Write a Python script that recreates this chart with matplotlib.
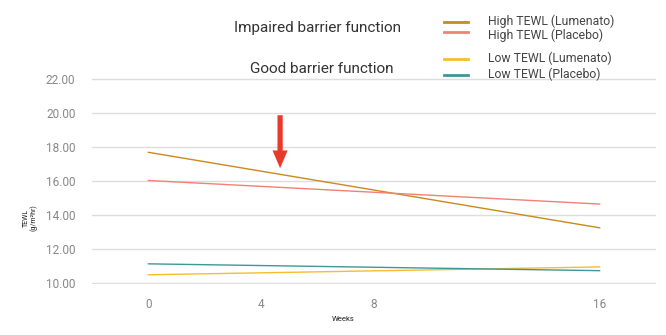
import matplotlib
matplotlib.use("Agg")
import matplotlib.pyplot as plt
from matplotlib.lines import Line2D

plt.rcParams['font.family'] = ['Roboto', 'DejaVu Sans']

# data
weeks = [0, 16]
high_lumenato = [17.68, 13.26]
high_placebo = [16.03, 14.65]
low_lumenato = [10.51, 10.97]
low_placebo = [11.15, 10.75]

week_ticks = [0, 4, 8, 16]
tewl_ticks = [10, 12, 14, 16, 18, 20, 22]

names = ["High TEWL (Lumenato)", "High TEWL (Placebo)",
         "Low TEWL (Lumenato)", "Low TEWL (Placebo)"]
colors = ["#C98A1E", "#F28174", "#F6BD30", "#3D9798"]

W, H = 666, 335
fig = plt.figure(figsize=(W / 100, H / 100), dpi=100)
ax = fig.add_axes([92 / W, 51 / H, 564 / W, 206 / H])

for name, vals, c in zip(names, [high_lumenato, high_placebo, low_lumenato, low_placebo], colors):
    ax.plot(weeks, vals, color=c, lw=1.0, zorder=3)

ax.set_xlim(-2, 18)
ax.set_xticks(week_ticks)
ax.set_xticklabels([str(w) for w in week_ticks])
ax.set_yticks(tewl_ticks)
ax.set_yticklabels(["{:.2f}".format(t) for t in tewl_ticks])
ax.tick_params(length=0, labelsize=8.5, colors="#888888", pad=12)
ax.tick_params(axis='x', pad=10)
ax.grid(axis='y', color="#dddddd", lw=1.0)
ax.set_axisbelow(True)
for s in ax.spines.values():
    s.set_visible(False)
ax.set_ylim(9.97, 22.03)

ax.set_xlabel("Weeks", fontsize=5.5, color="#222222")
ax.xaxis.set_label_coords((343 - 92) / 564, -(319 - 284) / 206 + 0.0)
ax.xaxis.label.set_va("center")
fig.text(30 / W, 1 - 218 / H, "TEWL\n(g/m²hr)", rotation=90, fontsize=5,
         color="#222222", ha="center", va="center", linespacing=1.0)

# red arrow
ax.annotate("", xy=(4.67, 16.75), xytext=(4.67, 19.85),
            arrowprops=dict(arrowstyle="simple,head_length=1.7,head_width=1.45,tail_width=0.5",
                            mutation_scale=7.5, color="#E8392A", lw=0,
                            shrinkA=0, shrinkB=0))

fig.text(317 / W, 1 - 28 / H, "Impaired barrier function", fontsize=11,
         color="#333333", ha="center", va="center")
fig.text(322 / W, 1 - 69 / H, "Good barrier function", fontsize=11,
         color="#333333", ha="center", va="center")

# legend drawn by hand to keep the uneven row spacing of the reference
line_rows = [22, 32, 59, 75]
text_rows = [21, 35, 58, 74]
for name, c, ly, ty in zip(names, colors, line_rows, text_rows):
    fig.add_artist(Line2D([444 / W, 468 / W], [1 - ly / H, 1 - ly / H],
                          color=c, lw=2, transform=fig.transFigure))
    fig.text(488 / W, 1 - ty / H, name, fontsize=8.8, color="#444444",
             ha="left", va="center")

fig.savefig("out.png", dpi=100)
